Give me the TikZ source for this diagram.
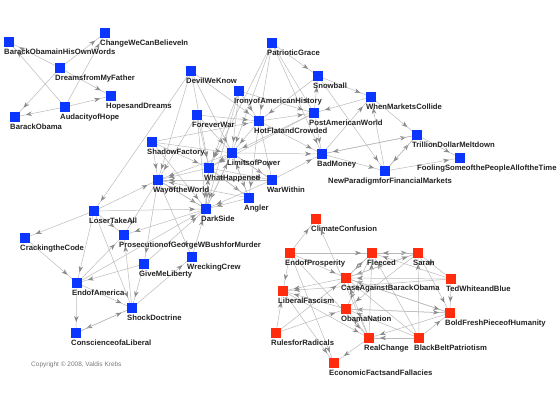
\documentclass[tikz,border=0pt]{standalone}
\usepackage{fontspec}
\setmainfont{Liberation Sans}
\usepackage{xcolor}
\definecolor{cBlue}{HTML}{0A36FF}
\definecolor{cRed}{HTML}{FF2D0D}
\definecolor{cEdge}{HTML}{BBBBBB}
\definecolor{cTip}{HTML}{8A8A8A}
\definecolor{cText}{HTML}{222222}
\definecolor{cGray}{HTML}{7A7A7A}
\usetikzlibrary{arrows.meta,decorations.markings,backgrounds}
\tikzset{
  book/.style={rectangle,minimum size=10pt,inner sep=0pt,outer sep=0pt},
  book-blue/.style={book,fill=cBlue},
  book-red/.style={book,fill=cRed},
  book-label/.style={anchor=north west,inner sep=0pt,yshift=-1.5pt,
    font=\fontsize{7.7}{8}\selectfont\bfseries,text=cText},
  % gray line, small head a little before the target square
  arrow/.style={draw=cEdge,line width=0.5pt,postaction={decorate},
    decoration={markings,mark=at position -6pt with
      {\arrow[cTip]{Stealth[length=6pt,width=4.5pt]}}}},
}

\begin{document}
\begin{tikzpicture}[x=1pt,y=-1pt]
  \useasboundingbox (0,0) rectangle (560,410);
  % Obama books
  \node[book-blue,label={[book-label]south west:BarackObamainHisOwnWords}] (ownwords) at (9,42) {};
  \node[book-blue,label={[book-label]south west:ChangeWeCanBelieveIn}] (change) at (105,33) {};
  \node[book-blue,label={[book-label]south west:DreamsfromMyFather}] (dreams) at (60,68) {};
  \node[book-blue,label={[book-label]south west:HopesandDreams}] (hopes) at (111,96) {};
  \node[book-blue,label={[book-label]south west:AudacityofHope}] (audacity) at (65,107) {};
  \node[book-blue,label={[book-label]south west:BarackObama}] (obama) at (15,117) {};
  % blue center
  \node[book-blue,label={[book-label]south west:PatrioticGrace}] (patriotic) at (272,43) {};
  \node[book-blue,label={[book-label]south west:DevilWeKnow}] (devil) at (191,71) {};
  \node[book-blue,label={[book-label]south west:Snowball}] (snowball) at (318,76) {};
  \node[book-blue,label={[book-label]south west:IronyofAmericanHistory}] (irony) at (239,91) {};
  \node[book-blue,label={[book-label]south west:WhenMarketsCollide}] (markets) at (371,97) {};
  \node[book-blue,label={[book-label]south west:PostAmericanWorld}] (postamerican) at (314,113) {};
  \node[book-blue,label={[book-label]south west:ForeverWar}] (foreverwar) at (197,115) {};
  \node[book-blue,label={[book-label]south west:HotFlatandCrowded}] (hotflat) at (259,121) {};
  \node[book-blue,label={[book-label]south west:TrillionDollarMeltdown}] (trillion) at (417,135) {};
  \node[book-blue,label={[book-label]south west:ShadowFactory}] (shadow) at (152,142) {};
  \node[book-blue,label={[book-label]south west:LimitsofPower}] (limits) at (232,153) {};
  \node[book-blue,label={[book-label]south west:BadMoney}] (badmoney) at (322,154) {};
  \node[book-blue,label={[book-label,xshift=-38pt]south west:FoolingSomeofthePeopleAlloftheTime}] (fooling) at (460,158) {};
  \node[book-blue,label={[book-label,xshift=-52pt]south west:NewParadigmforFinancialMarkets}] (paradigm) at (385,171) {};
  \node[book-blue,label={[book-label]south west:WhatHappened}] (whathappened) at (209,168) {};
  \node[book-blue,label={[book-label]south west:WarWithin}] (warwithin) at (272,180) {};
  \node[book-blue,label={[book-label]south west:WayoftheWorld}] (wayworld) at (158,180) {};
  \node[book-blue,label={[book-label]south west:Angler}] (angler) at (249,198) {};
  \node[book-blue,label={[book-label]south west:DarkSide}] (darkside) at (206,209) {};
  \node[book-blue,label={[book-label]south west:LoserTakeAll}] (losertake) at (94,211) {};
  \node[book-blue,label={[book-label]south west:CrackingtheCode}] (cracking) at (25,238) {};
  \node[book-blue,label={[book-label]south west:ProsecutionofGeorgeWBushforMurder}] (prosecution) at (124,235) {};
  \node[book-blue,label={[book-label]south west:WreckingCrew}] (wrecking) at (192,257) {};
  \node[book-blue,label={[book-label]south west:GiveMeLiberty}] (liberty) at (144,264) {};
  \node[book-blue,label={[book-label]south west:EndofAmerica}] (endamerica) at (77,283) {};
  \node[book-blue,label={[book-label]south west:ShockDoctrine}] (shock) at (132,308) {};
  \node[book-blue,label={[book-label]south west:ConscienceofaLiberal}] (conscience) at (76,333) {};
  % red books
  \node[book-red,label={[book-label]south west:ClimateConfusion}] (climate) at (316,219) {};
  \node[book-red,label={[book-label]south west:EndofProsperity}] (endprosperity) at (290,253) {};
  \node[book-red,label={[book-label]south west:Fleeced}] (fleeced) at (372,253) {};
  \node[book-red,label={[book-label]south west:Sarah}] (sarah) at (418,253) {};
  \node[book-red,label={[book-label]south west:CaseAgainstBarackObama}] (caseagainst) at (346,278) {};
  \node[book-red,label={[book-label]south west:TedWhiteandBlue}] (tedwhite) at (451,279) {};
  \node[book-red,label={[book-label]south west:LiberalFascism}] (libfascism) at (283,291) {};
  \node[book-red,label={[book-label]south west:ObamaNation}] (obamanation) at (346,309) {};
  \node[book-red,label={[book-label]south west:BoldFreshPieceofHumanity}] (boldfresh) at (450,313) {};
  \node[book-red,label={[book-label]south west:RulesforRadicals}] (rules) at (276,333) {};
  \node[book-red,label={[book-label]south west:RealChange}] (realchange) at (369,338) {};
  \node[book-red,label={[book-label]south west:BlackBeltPatriotism}] (blackbelt) at (419,338) {};
  \node[book-red,label={[book-label]south west:EconomicFactsandFallacies}] (economic) at (334,363) {};
  \node[anchor=west,inner sep=0pt,text=cGray,font=\fontsize{6.5}{7}\selectfont] (copyright) at (31,365) {Copyright © 2008, Valdis Krebs};

  \begin{scope}[on background layer]
    \foreach \a/\b in {dreams/change,dreams/ownwords,dreams/hopes,dreams/obama,
      audacity/hopes,audacity/obama,audacity/change,audacity/ownwords}
      \draw[arrow] (\a) -- (\b);
    \foreach \a/\b in {patriotic/snowball,patriotic/postamerican,patriotic/hotflat,
      patriotic/limits,patriotic/badmoney,patriotic/whathappened,
      snowball/markets,snowball/paradigm,snowball/hotflat,postamerican/snowball,
      irony/postamerican,irony/hotflat,irony/limits,irony/whathappened,irony/darkside,
      devil/limits,devil/hotflat,devil/whathappened,devil/wayworld,devil/losertake,
      foreverwar/limits,foreverwar/hotflat,foreverwar/whathappened,foreverwar/wayworld,foreverwar/darkside,
      shadow/limits,shadow/whathappened,shadow/wayworld,shadow/hotflat,shadow/darkside,
      hotflat/postamerican,hotflat/badmoney,hotflat/limits,hotflat/warwithin,hotflat/angler,
      postamerican/badmoney,markets/postamerican,postamerican/limits,postamerican/whathappened,
      badmoney/markets,badmoney/paradigm,badmoney/trillion,trillion/badmoney,
      markets/trillion,paradigm/markets,paradigm/trillion,trillion/paradigm,
      paradigm/fooling,trillion/fooling,
      limits/badmoney,limits/whathappened,limits/warwithin,limits/wayworld,limits/darkside,limits/angler,
      whathappened/wayworld,whathappened/darkside,whathappened/warwithin,whathappened/angler,
      warwithin/limits,warwithin/darkside,warwithin/badmoney,warwithin/wayworld,
      angler/darkside,angler/wayworld,angler/limits,angler/whathappened,
      wayworld/darkside,darkside/wayworld,darkside/whathappened,darkside/limits,
      wayworld/wrecking,wayworld/prosecution,wayworld/liberty}
      \draw[arrow] (\a) -- (\b);
    \foreach \a/\b in {losertake/wayworld,losertake/cracking,losertake/darkside,
      losertake/endamerica,losertake/shock,losertake/prosecution,
      cracking/endamerica,darkside/prosecution,liberty/endamerica,liberty/darkside,liberty/shock,
      endamerica/shock,endamerica/conscience,endamerica/prosecution,endamerica/darkside,
      shock/conscience,conscience/shock,shock/prosecution,shock/wrecking,wrecking/darkside}
      \draw[arrow] (\a) -- (\b);
    \foreach \a/\b in {endprosperity/climate,endprosperity/fleeced,endprosperity/libfascism,
      endprosperity/caseagainst,endprosperity/economic,endprosperity/realchange,
      realchange/climate,fleeced/sarah,sarah/fleeced,
      sarah/caseagainst,fleeced/caseagainst,fleeced/obamanation,sarah/obamanation,
      tedwhite/caseagainst,tedwhite/fleeced,tedwhite/sarah,tedwhite/boldfresh,tedwhite/libfascism,
      caseagainst/libfascism,obamanation/libfascism,rules/libfascism,rules/caseagainst,rules/obamanation,
      libfascism/realchange,libfascism/economic,
      realchange/economic,realchange/obamanation,realchange/caseagainst,realchange/fleeced,
      blackbelt/realchange,blackbelt/obamanation,blackbelt/caseagainst,blackbelt/fleeced,
      blackbelt/boldfresh,blackbelt/sarah,
      boldfresh/realchange,boldfresh/obamanation,boldfresh/caseagainst,obamanation/boldfresh,
      sarah/boldfresh,caseagainst/fleeced,caseagainst/sarah,caseagainst/boldfresh}
      \draw[arrow] (\a) -- (\b);
  \end{scope}
\end{tikzpicture}
\end{document}
